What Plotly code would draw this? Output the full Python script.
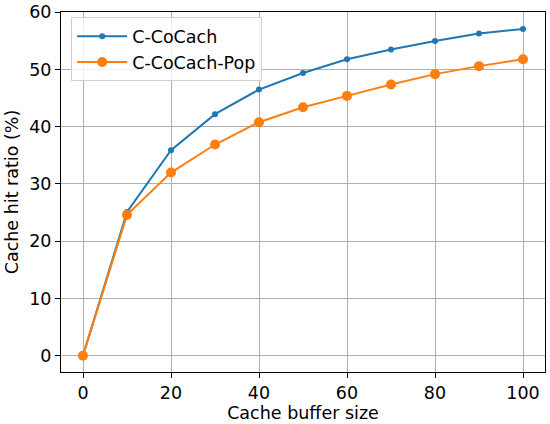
import plotly.graph_objects as go

buffer_size = [0, 10, 20, 30, 40, 50, 60, 70, 80, 90, 100]
cocach = [0.0, 25.1, 35.9, 42.2, 46.5, 49.4, 51.8, 53.5, 55.0, 56.3, 57.1]
cocach_pop = [0.0, 24.6, 32.0, 36.9, 40.8, 43.4, 45.4, 47.4, 49.2, 50.6, 51.8]

FONT = "DejaVu Sans"
FS = 17.5

fig = go.Figure()
fig.add_trace(go.Scatter(
    x=buffer_size, y=cocach, name="C-CoCach",
    mode="lines+markers",
    line=dict(color="#1f77b4", width=2),
    marker=dict(size=6, color="#1f77b4"),
))
fig.add_trace(go.Scatter(
    x=buffer_size, y=cocach_pop, name="C-CoCach-Pop",
    mode="lines+markers",
    line=dict(color="#ff7f0e", width=2),
    marker=dict(size=10, color="#ff7f0e"),
))

# matplotlib-like axis look
axis_style = dict(
    showgrid=True, gridcolor="#b0b0b0", gridwidth=1,
    showline=True, linecolor="black", linewidth=1, mirror=True,
    ticks="outside", ticklen=5, tickcolor="black",
    zeroline=False, automargin=False,
    tickfont=dict(family=FONT, size=FS, color="black"),
)

fig.update_layout(
    width=550, height=424,
    margin=dict(l=61, r=5, t=12, b=52),
    paper_bgcolor="white", plot_bgcolor="white",
    font=dict(family=FONT, color="black"),
    showlegend=True,
    legend=dict(
        x=0.021, y=0.985, xanchor="left", yanchor="top",
        bgcolor="rgba(255,255,255,0.8)", bordercolor="#d0d0d0", borderwidth=1,
        font=dict(family=FONT, size=FS),
        itemwidth=50,
    ),
    xaxis=dict(
        range=[-5, 105], tickvals=[0, 20, 40, 60, 80, 100],
        title=dict(text="Cache buffer size", font=dict(family=FONT, size=FS), standoff=3),
        **axis_style,
    ),
    yaxis=dict(
        range=[-2.86, 60.06], tickvals=[0, 10, 20, 30, 40, 50, 60],
        title=dict(text="Cache hit ratio (%)", font=dict(family=FONT, size=FS), standoff=6),
        **axis_style,
    ),
)

# drop the browser's default body margin so the figure sits at the page corner
fig.write_html("out.html", config={"displayModeBar": False},
               post_script="document.body.style.margin='0px';")
